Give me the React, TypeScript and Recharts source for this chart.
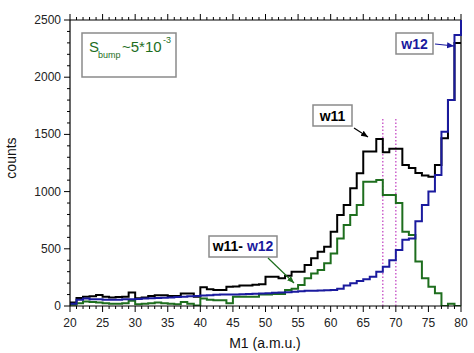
import React from 'react';
import { LineChart, Line, XAxis, YAxis, ReferenceLine } from 'recharts';

// mass bins (left edges), last entry closes the histogram
const MASS = [
  20, 21, 22, 23, 24, 25, 26, 27, 28, 29,
  30, 31, 32, 33, 34, 35, 36, 37, 38, 39,
  40, 41, 42, 43, 44, 45, 46, 47, 48, 49,
  50, 51, 52, 53, 54, 55, 56, 57, 58, 59,
  60, 61, 62, 63, 64, 65, 66, 67, 68, 69,
  70, 71, 72, 73, 74, 75, 76, 77, 78, 79,
  80,
];

const W11 = [
  30, 70, 80, 85, 96, 80, 75, 78, 80, 117,
  67, 75, 88, 95, 95, 88, 88, 110, 110, 81,
  163, 146, 140, 140, 169, 170, 180, 180, 185, 190,
  256, 256, 242, 265, 300, 300, 358, 417, 475, 518,
  650, 795, 883, 1029, 1160, 1350, 1350, 1460, 1345, 1375,
  1375, 1232, 1206, 1162, 1140, 1130, 1232, 1466, 1800, 2300,
  2300,
];

const W12 = [
  20, 55, 65, 60, 58, 55, 55, 55, 58, 60,
  62, 65, 68, 70, 72, 75, 78, 80, 85, 88,
  92, 95, 98, 100, 100, 100, 102, 105, 108, 110,
  112, 115, 118, 120, 125, 130, 134, 134, 136, 138,
  140, 150, 180, 198, 218, 233, 256, 300, 344, 400,
  490, 580, 590, 740, 883, 1000, 1145, 1524, 1800, 2369,
  2650,
];

const DIFF = [
  10, 25, 40, 35, 30, 25, 20, 20, 25, 45,
  15, 20, 25, 30, 25, 20, 15, 35, 20, 5,
  65, 55, 50, 50, 25, 80, 80, 80, 80, 100,
  100, 105, 105, 140, 150, 183, 242, 285, 315, 373,
  460, 591, 708, 795, 883, 1087, 1087, 1101, 970, 970,
  900, 650, 620, 388, 242, 169, 111, 0, 20, 0,
  0,
];

const X_TICKS = MASS;
const Y_TICKS = [
  0, 100, 200, 300, 400, 500, 600, 700, 800, 900, 1000, 1100, 1200,
  1300, 1400, 1500, 1600, 1700, 1800, 1900, 2000, 2100, 2200, 2300, 2400, 2500,
];
const MARKS = [68, 70];
const Y_TOP = 2500;

// plot geometry (chart 474x353, margins below)
const W = 474;
const H = 353;
const M = { top: 20, right: 13, bottom: 0, left: 0 };
const Y_AXIS_W = 70;
const X_AXIS_H = 47;
const PLOT_L = M.left + Y_AXIS_W;
const PLOT_R = W - M.right;
const PLOT_T = M.top;

const FONT = "Arial, 'Liberation Sans', sans-serif";
const BLACK = '#000000';
const BLUE = '#1a1a9e';
const GREEN = '#1e6e1e';

const data = MASS.map((m, i) => ({ m, w11: W11[i], w12: W12[i], diff: DIFF[i] }));

const XTick = (props: any) => {
  const { x, y, payload } = props;
  const major = payload.value % 5 === 0;
  const len = major ? 6 : 3;
  return (
    <g>
      <line x1={x} x2={x} y1={y} y2={y + len} stroke="#000" strokeWidth={1} />
      {major && (
        <text x={x} y={y + 21} textAnchor="middle" fontSize={12} fontFamily={FONT} fill="#222">
          {payload.value}
        </text>
      )}
    </g>
  );
};

const YTick = (props: any) => {
  const { x, y, payload } = props;
  const major = payload.value % 500 === 0;
  const len = major ? 6 : 3;
  return (
    <g>
      <line x1={x} x2={x - len} y1={y} y2={y} stroke="#000" strokeWidth={1} />
      {major && (
        <text x={x - 9} y={y + 4} textAnchor="end" fontSize={12} fontFamily={FONT} fill="#222">
          {payload.value}
        </text>
      )}
    </g>
  );
};

const topTickX = (m: number) => PLOT_L + ((m - 20) / 60) * (PLOT_R - PLOT_L);

const Overlay = () => (
  <svg
    width={W}
    height={H}
    style={{ position: 'absolute', left: 0, top: 0, pointerEvents: 'none' }}
    fontFamily={FONT}
  >
    <defs>
      <marker id="ahBlack" markerWidth="8" markerHeight="8" refX="7" refY="4" orient="auto" markerUnits="userSpaceOnUse">
        <path d="M0,1 L7,4 L0,7 z" fill={BLACK} />
      </marker>
      <marker id="ahBlue" markerWidth="8" markerHeight="8" refX="7" refY="4" orient="auto" markerUnits="userSpaceOnUse">
        <path d="M0,1 L7,4 L0,7 z" fill={BLUE} />
      </marker>
      <marker id="ahGreen" markerWidth="8" markerHeight="8" refX="7" refY="4" orient="auto" markerUnits="userSpaceOnUse">
        <path d="M0,1 L7,4 L0,7 z" fill={GREEN} />
      </marker>
    </defs>

    {/* top axis ticks (outward) */}
    {X_TICKS.map((m) => (
      <line
        key={`tt-${m}`}
        x1={topTickX(m)}
        x2={topTickX(m)}
        y1={PLOT_T}
        y2={PLOT_T - (m % 5 === 0 ? 6 : 3)}
        stroke="#000"
        strokeWidth={1}
      />
    ))}

    {/* axis titles */}
    <text x={265} y={348} textAnchor="middle" fontSize={14} fill="#111">M1 (a.m.u.)</text>
    <text x={16} y={158} textAnchor="middle" fontSize={14} fill="#111" transform="rotate(-90 16 158)">counts</text>

    {/* S_bump box */}
    <rect x={82} y={33} width={94} height={44} fill="none" stroke="#8a8a8a" strokeWidth={1.5} />
    <text x={89} y={52} fontSize={15} fill={GREEN}>S</text>
    <text x={98} y={58} fontSize={9} fill={GREEN}>bump</text>
    <text x={122} y={52} fontSize={15} fill={GREEN}>~5*10</text>
    <text x={163} y={43} fontSize={9} fill={GREEN}>-3</text>

    {/* w11 */}
    <rect x={313} y={105} width={39} height={21} fill="#fff" stroke="#8a8a8a" strokeWidth={1.5} />
    <text x={332.5} y={120.5} textAnchor="middle" fontSize={14} fontWeight="bold" fill={BLACK}>w11</text>
    <line x1={354} y1={128} x2={368} y2={137} stroke={BLACK} strokeWidth={1.2} markerEnd="url(#ahBlack)" />

    {/* w12 */}
    <rect x={396} y={33} width={37} height={21} fill="#fff" stroke="#8a8a8a" strokeWidth={1.5} />
    <text x={414.5} y={48.5} textAnchor="middle" fontSize={14} fontWeight="bold" fill={BLUE}>w12</text>
    <line x1={435} y1={44} x2={454} y2={46} stroke={BLUE} strokeWidth={1.2} markerEnd="url(#ahBlue)" />

    {/* w11 - w12 */}
    <rect x={209} y={236} width={68} height={21} fill="#fff" stroke="#8a8a8a" strokeWidth={1.5} />
    <text x={243} y={251} textAnchor="middle" fontSize={14} fontWeight="bold">
      <tspan fill={BLACK}>w11- </tspan>
      <tspan fill={BLUE}>w12</tspan>
    </text>
    <line x1={268} y1={258} x2={294} y2={283} stroke={GREEN} strokeWidth={1.2} markerEnd="url(#ahGreen)" />
  </svg>
);

export default function App() {
  return (
    <div style={{ position: 'absolute', left: 0, top: 0, width: W, height: H, background: '#fff' }}>
      <LineChart width={W} height={H} data={data} margin={M}>
        <XAxis
          dataKey="m"
          type="number"
          domain={[20, 80]}
          ticks={X_TICKS}
          interval={0}
          height={X_AXIS_H}
          tickSize={0}
          tickMargin={0}
          tickLine={false}
          axisLine={{ stroke: '#000', strokeWidth: 1.2 }}
          tick={<XTick />}
        />
        <YAxis
          type="number"
          domain={[0, Y_TOP]}
          allowDataOverflow
          ticks={Y_TICKS}
          interval={0}
          width={Y_AXIS_W}
          tickSize={0}
          tickMargin={0}
          tickLine={false}
          axisLine={{ stroke: '#000', strokeWidth: 1.2 }}
          tick={<YTick />}
        />
        {/* frame: top and right edges */}
        <ReferenceLine y={Y_TOP} stroke="#000" strokeWidth={1.2} />
        <ReferenceLine x={80} stroke="#000" strokeWidth={1.2} />
        {MARKS.map((mx) => (
          <ReferenceLine
            key={mx}
            segment={[{ x: mx, y: 0 }, { x: mx, y: 1650 }]}
            stroke="#c44ac4"
            strokeWidth={1.3}
            strokeDasharray="1.5 2"
          />
        ))}
        <Line type="stepAfter" dataKey="w11" stroke={BLACK} strokeWidth={2} dot={false} isAnimationActive={false} />
        <Line type="stepAfter" dataKey="diff" stroke={GREEN} strokeWidth={2} dot={false} isAnimationActive={false} />
        <Line type="stepAfter" dataKey="w12" stroke={BLUE} strokeWidth={2} dot={false} isAnimationActive={false} />
      </LineChart>
      <Overlay />
    </div>
  );
}
